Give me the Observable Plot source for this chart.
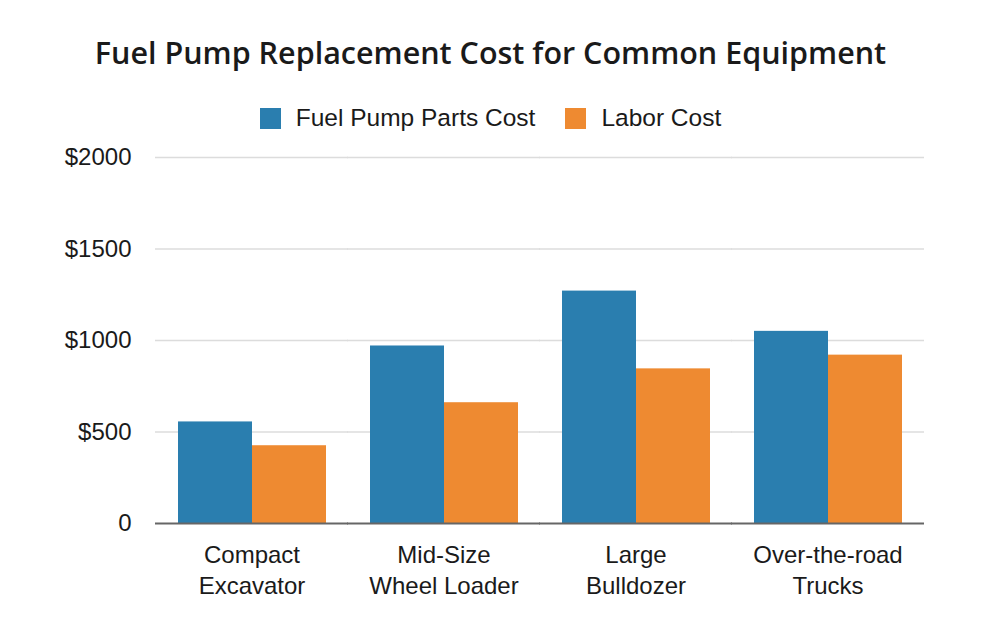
<!DOCTYPE html>
<html>
<head>
<meta charset="utf-8">
<script src="https://cdn.jsdelivr.net/npm/d3@7"></script>
<script src="https://cdn.jsdelivr.net/npm/@observablehq/plot@0.6"></script>
<style>
  html, body { margin: 0; padding: 0; background: #fff; }
  #page { position: relative; width: 981px; height: 639px; font-family: "Liberation Sans", Arial, sans-serif; color: #1a1a1a; }
  #title { position: absolute; left: 0; width: 981px; top: 32px; text-align: center; font-family: "Open Sans", sans-serif; font-weight: 600; font-size: 30.5px; line-height: 40px; }
  #legend { position: absolute; left: 0; width: 981px; top: 104px; display: flex; justify-content: center; gap: 30px; font-size: 24.5px; line-height: 28px; }
  .item { display: flex; align-items: center; gap: 15px; }
  .swatch { width: 21px; height: 21px; }
  #chart { position: absolute; left: 0; top: 140px; }
</style>
</head>
<body>
<div id="page">
  <div id="title">Fuel Pump Replacement Cost for Common Equipment</div>
  <div id="legend"></div>
  <div id="chart"></div>
</div>
<script>
// Equipment categories (line breaks split the axis labels)
const categories = ["Compact\nExcavator", "Mid-Size\nWheel Loader", "Large\nBulldozer", "Over-the-road\nTrucks"];
// Cost series
const series = ["Fuel Pump Parts Cost", "Labor Cost"];
const partsCost = [555, 970, 1270, 1050];
const laborCost = [425, 660, 845, 920];
const colors = ["#2a7eaf", "#ee8a31"];
// Y axis ticks
const yTicks = [0, 500, 1000, 1500, 2000];

const rows = categories.flatMap((c, i) => [
  {category: c, series: series[0], cost: partsCost[i]},
  {category: c, series: series[1], cost: laborCost[i]}
]);

// Legend
const legend = document.getElementById("legend");
series.forEach((s, i) => {
  const item = document.createElement("div");
  item.className = "item";
  const sw = document.createElement("div");
  sw.className = "swatch";
  sw.style.background = colors[i];
  const label = document.createElement("span");
  label.textContent = s;
  item.append(sw, label);
  legend.append(item);
});

// Rules extend past each facet so grid lines run unbroken across the gaps
const bridge = -22;

const chart = Plot.plot({
  width: 981,
  height: 499,
  marginTop: 17,
  marginBottom: 116,
  marginLeft: 153,
  marginRight: 56,
  style: {fontFamily: "'Liberation Sans', Arial, sans-serif", fontSize: "24px", color: "#1a1a1a", background: "#fff"},
  fx: {domain: categories, paddingInner: 0.225, paddingOuter: 0.12, label: null},
  x: {domain: series, padding: 0, axis: null},
  y: {domain: [0, 2000], label: null},
  color: {domain: series, range: colors},
  marks: [
    Plot.ruleY(yTicks.slice(1), {stroke: "#dcdcdc", strokeWidth: 1.5, insetLeft: bridge, insetRight: bridge}),
    Plot.barY(rows, {fx: "category", x: "series", y: "cost", fill: "series"}),
    Plot.ruleY([0], {stroke: "#666", strokeWidth: 2, insetLeft: bridge, insetRight: bridge}),
    Plot.axisY(yTicks, {tickSize: 0, tickPadding: 46, label: null, fontSize: 24,
      tickFormat: d => d === 0 ? "0" : `$${d}`}),
    Plot.axisFx({anchor: "bottom", tickSize: 0, tickPadding: 17, label: null, fontSize: 24, lineHeight: 1.3})
  ]
});
document.getElementById("chart").append(chart);
</script>
</body>
</html>
